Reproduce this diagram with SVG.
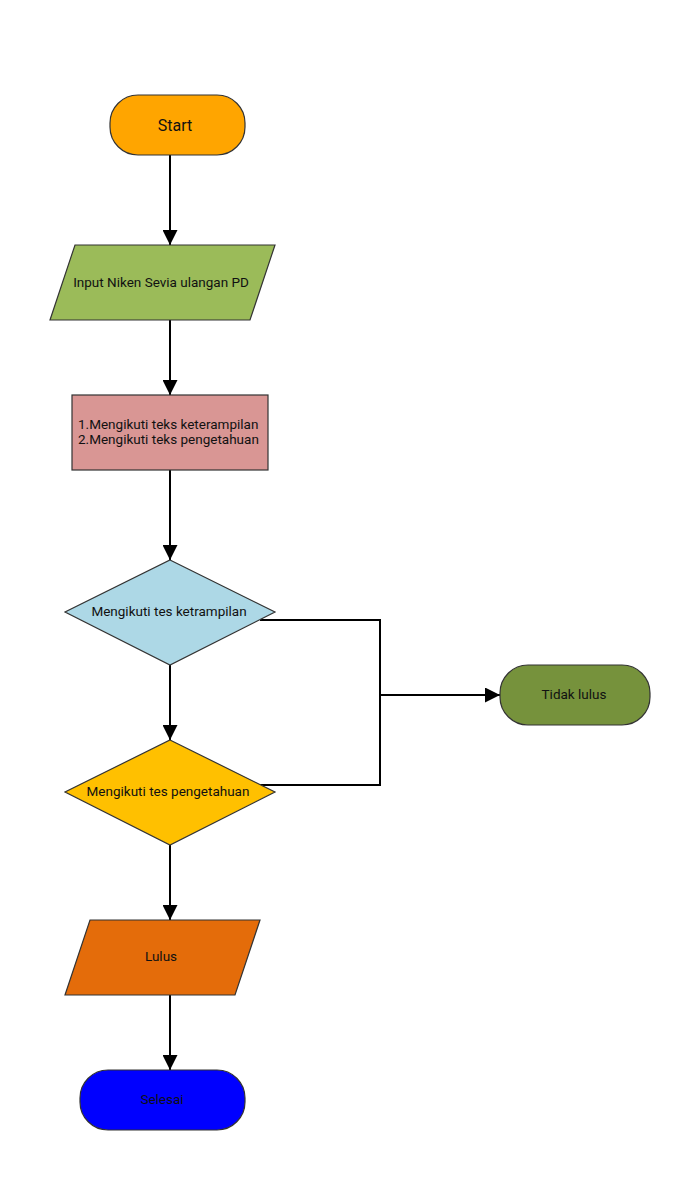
<svg xmlns="http://www.w3.org/2000/svg" width="700" height="1180" viewBox="0 0 700 1180">
<style>
.s{stroke:#333;stroke-width:1.2}
.t{font-family:Roboto,"Liberation Sans",sans-serif;font-size:13.5px;fill:#111;text-anchor:middle;dominant-baseline:middle}
.c{stroke:#000;stroke-width:2;fill:none}
</style>
<defs><marker id="a" viewBox="0 0 10 10" refX="10" refY="5" markerWidth="15" markerHeight="15" markerUnits="userSpaceOnUse" orient="auto"><path d="M0,0L10,5L0,10z" fill="#000"/></marker></defs>
<rect width="700" height="1180" fill="#fff"/>
<g id="connectors">
<path class="c" d="M170,155V245" marker-end="url(#a)"/>
<path class="c" d="M170,320V395" marker-end="url(#a)"/>
<path class="c" d="M170,470V560" marker-end="url(#a)"/>
<path class="c" d="M170,665V740" marker-end="url(#a)"/>
<path class="c" d="M170,845V920" marker-end="url(#a)"/>
<path class="c" d="M170,995V1070" marker-end="url(#a)"/>
<path class="c" d="M260,620H380V785H260"/>
<path class="c" d="M380,695H500" marker-end="url(#a)"/>
</g>
<g id="start"><rect class="s" x="110" y="95" width="135" height="60" rx="28" fill="#FFA500"/><text class="t" x="175" y="127" style="font-size:16px">Start</text></g>
<g id="input"><polygon class="s" points="75,245 275,245 250,320 50,320" fill="#9BBB59"/><text class="t" x="161" y="283">Input Niken Sevia ulangan PD</text></g>
<g id="proses"><rect class="s" x="72" y="395" width="196" height="75" fill="#D99694"/><text class="t" x="78" y="425" style="text-anchor:start">1.Mengikuti teks keterampilan</text><text class="t" x="78" y="440" style="text-anchor:start">2.Mengikuti teks pengetahuan</text></g>
<g id="d1"><polygon class="s" points="170,560 275,612 170,665 65,612" fill="#ADD8E6"/><text class="t" x="169" y="612">Mengikuti tes ketrampilan</text></g>
<g id="d2"><polygon class="s" points="170,740 275,792 170,845 65,792" fill="#FFC000"/><text class="t" x="168" y="792">Mengikuti tes pengetahuan</text></g>
<g id="tidak"><rect class="s" x="500" y="665" width="150" height="60" rx="28" fill="#76923C"/><text class="t" x="574" y="695">Tidak lulus</text></g>
<g id="lulus"><polygon class="s" points="90,920 260,920 235,995 65,995" fill="#E46C0A"/><text class="t" x="161" y="957">Lulus</text></g>
<g id="selesai"><rect class="s" x="80" y="1070" width="165" height="60" rx="28" fill="#0000FF"/><text class="t" x="162" y="1100">Selesai</text></g>
</svg>
